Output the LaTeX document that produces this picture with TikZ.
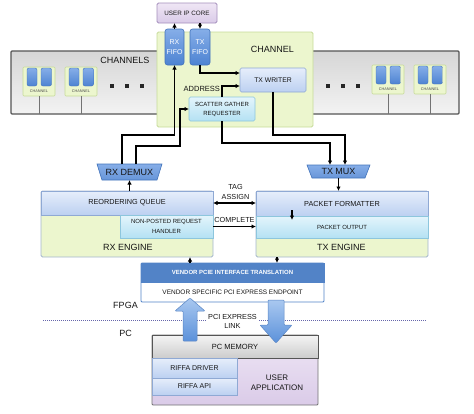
\documentclass[tikz,border=0pt]{standalone}
\usepackage{fontspec}
\setmainfont{Liberation Sans}
\usetikzlibrary{arrows.meta}
\definecolor{txt}{HTML}{151515}
\definecolor{bT}{HTML}{E6EEFB}
\definecolor{bB}{HTML}{BCD0F1}
\definecolor{bD}{HTML}{8FA9D4}
\definecolor{cT}{HTML}{E4F5FC}
\definecolor{cB}{HTML}{B4E1F3}
\definecolor{cD}{HTML}{8DC6DD}
\definecolor{gF}{HTML}{ECF6CE}
\definecolor{gD}{HTML}{C7DB9A}
\definecolor{fT}{HTML}{86AEE8}
\definecolor{fB}{HTML}{4D83D2}
\definecolor{fD}{HTML}{4273BA}
\definecolor{pT}{HTML}{EFE6F5}
\definecolor{pB}{HTML}{DACBE8}
\definecolor{pD}{HTML}{A48FBC}
\definecolor{vB}{HTML}{5283C7}
\definecolor{kT}{HTML}{D6D6D6}
\definecolor{kB}{HTML}{F3F3F3}
\definecolor{kD}{HTML}{555555}
\definecolor{aT}{HTML}{A9C8F0}
\definecolor{aB}{HTML}{5B91DA}
\definecolor{aD}{HTML}{5A86C4}
\definecolor{eD}{HTML}{A3B5CF}
\newcommand{\fsz}[2]{\fontsize{#1}{#2}\selectfont}
\begin{document}
\begin{tikzpicture}[x=1pt,y=-1pt,
 every node/.style={text=txt,inner sep=0pt,outer sep=0pt},
 box/.style={anchor=north west,align=center,rounded corners=1.5pt},
 bluebox/.style={box,top color=bT,bottom color=bB,draw=bD,line width=0.6pt},
 cyanbox/.style={box,top color=cT,bottom color=cB,draw=cD,line width=0.6pt},
 greenbox/.style={box,fill=gF,draw=gD,line width=0.8pt},
 fifobox/.style={box,top color=fT,bottom color=fB,draw=fD,line width=0.6pt,text=white,rounded corners=2.5pt},
 purplebox/.style={box,top color=pT,bottom color=pB,draw=pD,line width=0.8pt},
 graybox/.style={box,top color=kT,bottom color=kB,draw=kD,line width=1.2pt,rounded corners=1pt},
 pill/.style={box,top color=fT,bottom color=fB,draw=fD,line width=0.4pt,rounded corners=2pt},
 sgreen/.style={box,fill=gF,draw=gD,line width=0.6pt,rounded corners=1pt},
 conn/.style={line width=1.4pt,draw=black,-{Latex[length=4.5pt,width=4.5pt]}},
 biconn/.style={line width=1.4pt,draw=black,{Latex[length=4.5pt,width=4.5pt]}-{Latex[length=4.5pt,width=4.5pt]}},
 leaf/.style={draw=black!55,line width=0.5pt},
 fatarrow/.style={top color=aT,bottom color=aB,draw=aD,line width=0.5pt,rounded corners=0.8pt},
 trap/.style={top color=fT,bottom color=fB!85!white,draw=fD,line width=0.6pt},
]
\useasboundingbox (0,0) rectangle (474,413);

% ---------- CHANNELS strip ----------
\node[graybox,minimum width=448,minimum height=63] (chs) at (11,51) {};
\node[font={\fsz{9pt}{10pt}}] (chslbl) at (125,60) {CHANNELS};

\newcommand{\smallch}[3]{%
 \node[sgreen,minimum width=32,minimum height=29] (#1) at (#2,#3) {};
 \node[pill,minimum width=10,minimum height=18] (#1a) at (#2+4,#3+1) {};
 \node[pill,minimum width=10.5,minimum height=18] (#1b) at (#2+18,#3+1) {};
 \node[font={\fsz{3.8pt}{4pt}},text=black!70] (#1t) at (#2+16,#3+24.5) {CHANNEL};
 \draw[leaf] (#1.south) -- (#1.south |- chs.south);
}
\smallch{sc1}{23}{67}
\smallch{sc2}{65}{67}
\smallch{sc3}{372}{65}
\smallch{sc4}{414}{65}

\foreach \dx in {112,127,142,328,343,358}
  \fill[black!85] (\dx-1.8,84.2) rectangle ++(3.6,3.6);

% ---------- CHANNEL ----------
\node[greenbox,minimum width=156,minimum height=95] (ch) at (157,32) {};
\node[font={\fsz{9pt}{10pt}}] (chlbl) at (272.5,49) {CHANNEL};

\node[purplebox,minimum width=60,minimum height=20,font={\fsz{6.3pt}{7pt}}] (userip) at (157,3) {USER IP CORE};
\node[fifobox,minimum width=19,minimum height=36,font={\fsz{7pt}{10pt}}] (rxfifo) at (165,29) {RX\\FIFO};
\node[fifobox,minimum width=20,minimum height=36,font={\fsz{7pt}{10pt}}] (txfifo) at (190,29) {TX\\FIFO};
\node[bluebox,minimum width=66,minimum height=24,font={\fsz{6.8pt}{7pt}}] (txwriter) at (240,68) {TX WRITER};
\node[cyanbox,minimum width=66,minimum height=24,font={\fsz{6pt}{9pt}}] (sgreq) at (189,97) {SCATTER GATHER\\REQUESTER};
\node[font={\fsz{7.5pt}{8pt}},anchor=east] (addr) at (220,88.5) {ADDRESS};

% ---------- DEMUX / MUX ----------
\path[trap] (97,164) -- (162,164) -- (157,180) -- (102,180) -- cycle;
\node[minimum width=65,minimum height=16,font={\fsz{9pt}{10pt}}] (rxdemux) at (129.5,172) {RX DEMUX};
\path[trap] (307,165) -- (370,165) -- (365,178) -- (312,178) -- cycle;
\node[minimum width=63,minimum height=13,font={\fsz{9pt}{10pt}}] (txmux) at (338.5,171.5) {TX MUX};

% ---------- RX ENGINE ----------
\node[greenbox,draw=eD,minimum width=172,minimum height=66] (rxeng) at (41,191) {};
\node[bluebox,sharp corners,minimum width=172,minimum height=24,font={\fsz{7.3pt}{8pt}}] (reorder) at (41,191) {REORDERING QUEUE};
\node[cyanbox,sharp corners,minimum width=93,minimum height=23,font={\fsz{6pt}{9.5pt}}] (nprh) at (120,215) {NON-POSTED REQUEST\\HANDLER};
\node[font={\fsz{9pt}{10pt}}] (rxenglbl) at (128,247) {RX ENGINE};

% ---------- TX ENGINE ----------
\node[greenbox,draw=eD,minimum width=172,minimum height=66] (txeng) at (256,191) {};
\node[bluebox,sharp corners,minimum width=172,minimum height=25,font={\fsz{7.3pt}{8pt}}] (formatter) at (256,191) {PACKET FORMATTER};
\node[cyanbox,sharp corners,minimum width=172,minimum height=22,font={\fsz{6pt}{7pt}}] (output) at (256,216) {PACKET OUTPUT};
\node[font={\fsz{9pt}{10pt}}] (txenglbl) at (341.5,247) {TX ENGINE};

\node[font={\fsz{7.3pt}{10pt}},align=center] (tag) at (235.5,192) {TAG\\ASSIGN};
\node[font={\fsz{7.3pt}{8pt}}] (compl) at (234.5,220) {COMPLETE};

% ---------- VENDOR ----------
\node[box,fill=white,draw=vB,line width=0.8pt,rounded corners=1pt,minimum width=183,minimum height=39] (vendor) at (141,263) {};
\node[box,fill=vB,draw=vB,sharp corners,minimum width=183,minimum height=19,text=white,font={\fsz{6pt}{7pt}\bfseries}] (vband) at (141,263) {VENDOR PCIE INTERFACE TRANSLATION};
\node[font={\fsz{6.5pt}{7pt}}] (endpt) at (232.5,292) {VENDOR SPECIFIC PCI EXPRESS ENDPOINT};

\node[font={\fsz{9pt}{10pt}}] (fpga) at (125.5,305.5) {FPGA};
\node[font={\fsz{9pt}{10pt}}] (pc) at (125.5,333) {PC};
\draw[densely dotted,draw=black!55!blue!60!white,line width=1pt] (43,320) -- (427,320);

% ---------- PC MEMORY ----------
\node[purplebox,draw=black!55,minimum width=166,minimum height=70,rounded corners=1pt] (pcmem) at (152,335) {};
\node[box,sharp corners,top color=black!4,bottom color=black!20,draw=kD,line width=0.8pt,minimum width=166,minimum height=23,font={\fsz{7.5pt}{8pt}}] (pcband) at (152,335) {PC MEMORY};
\node[bluebox,sharp corners,minimum width=85,minimum height=20,font={\fsz{7pt}{8pt}}] (driver) at (152,358) {RIFFA DRIVER};
\node[bluebox,sharp corners,minimum width=85,minimum height=17,font={\fsz{7pt}{8pt}}] (api) at (152,378) {RIFFA API};
\node[font={\fsz{8pt}{10pt}},align=center] (userapp) at (277,383) {USER\\APPLICATION};

\node[font={\fsz{7.3pt}{9.5pt}},align=center,fill=white,inner sep=0.8pt] (pcielink) at (232.5,321.5) {PCI EXPRESS\\LINK};

% fat link arrows
\path[fatarrow] (183,341) -- (183,311) -- (175,311) -- (190,298) -- (205,311) -- (197,311) -- (197,341) -- cycle;
\path[fatarrow] (268,300) -- (284,300) -- (284,325) -- (292,325) -- (276,343) -- (260,325) -- (268,325) -- cycle;

% ---------- connectors ----------
\draw[conn] (rxfifo.north) -- (rxfifo.north |- userip.south);
\draw[conn] (txfifo.north |- userip.south) -- (txfifo.north);
\draw[conn] (txfifo.south) |- ([yshift=7pt]txwriter.west);
\draw[conn] (sgreq.north) |- ([yshift=-6pt]txwriter.west);
\draw[conn] ([xshift=-7.5pt]rxdemux.north) |- ([yshift=-70pt]rxfifo.south) -- (rxfifo.south);
\draw[conn] ([xshift=6.5pt]rxdemux.north) |- ([xshift=-9pt,yshift=-37pt]sgreq.west) |- (sgreq.west);
\draw[conn] (txwriter.south) |- ([xshift=6.5pt,yshift=30pt]txmux.north) -- ([xshift=6.5pt]txmux.north);
\draw[conn] (sgreq.south) |- ([xshift=-8.5pt,yshift=22pt]txmux.north) -- ([xshift=-8.5pt]txmux.north);
\draw[conn] (rxdemux.south |- reorder.north) -- (rxdemux.south);
\draw[conn] (txmux.south) -- (txmux.south |- formatter.north);
\draw[conn] ([xshift=-50pt,yshift=6pt]formatter.south) -- ([xshift=-50pt,yshift=-4pt]output.north);
\draw[biconn] (reorder.east) -- (reorder.east -| formatter.west);
\draw[conn] (nprh.east) -- (nprh.east -| output.west);
\coordinate (v1) at ([xshift=-42.5pt]vendor.north);
\coordinate (v2) at ([xshift=44.5pt]vendor.north);
\draw[conn] (v1) -- (v1 |- rxeng.south);
\draw[conn] (v2 |- txeng.south) -- (v2);
\end{tikzpicture}
\end{document}
